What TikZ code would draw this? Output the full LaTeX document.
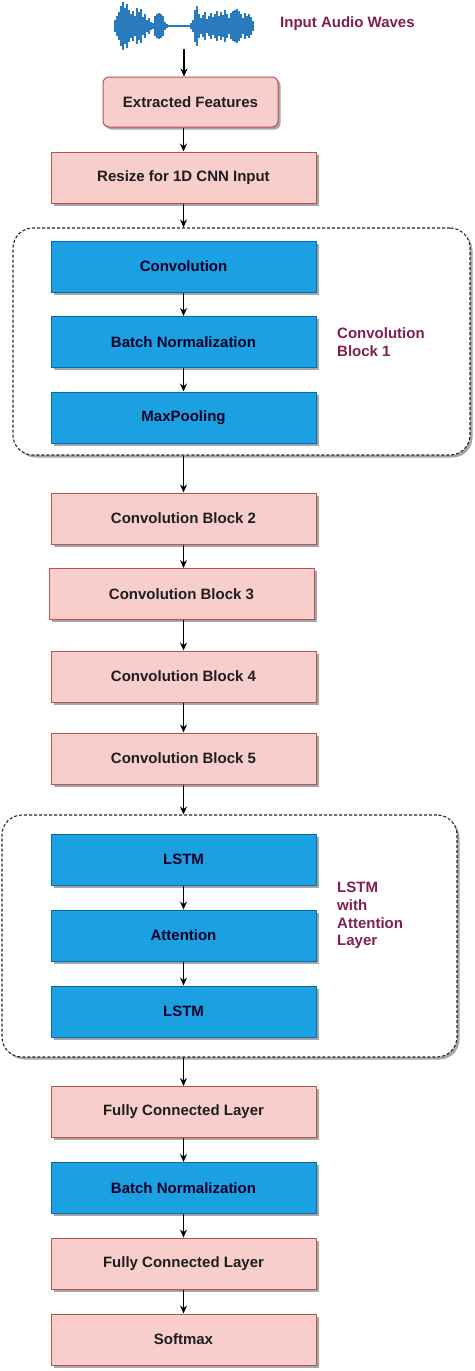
\documentclass[tikz,border=0pt]{standalone}
\usepackage{fontspec}
\setmainfont{Liberation Sans}
\usetikzlibrary{arrows.meta,shadows}
\definecolor{pinkfill}{HTML}{F8CECC}
\definecolor{pinkline}{HTML}{B85450}
\definecolor{bluefill}{HTML}{1BA1E2}
\definecolor{blueline}{HTML}{006EAF}
\definecolor{wavecol}{HTML}{2A7BBE}
\definecolor{maroon}{HTML}{7F1F4F}
\definecolor{txt}{HTML}{1E1E1E}
\begin{document}
\begin{tikzpicture}[x=1pt,y=-1pt,
  shad/.style={drop shadow={shadow xshift=2.5pt,shadow yshift=-2.5pt,opacity=0.35,fill=black}},
  layer/.style={shad,minimum width=265pt,minimum height=51pt,inner sep=0pt,line width=1pt,
    font=\fontsize{15}{18}\selectfont\bfseries,text=txt},
  pinkbox/.style={layer,fill=pinkfill,draw=pinkline},
  bluebox/.style={layer,fill=bluefill,draw=blueline,text=black!85!blue},
  container/.style={shad,draw=black!85,dash pattern=on 3pt off 2pt,line width=1.1pt,rounded corners=20pt,fill=white,inner sep=0pt},
  note/.style={text=maroon,font=\fontsize{15}{17.7}\selectfont\bfseries,align=left,anchor=west,inner sep=0pt},
  arr/.style={-{Stealth[length=8pt,width=7pt]},line width=1.2pt,black}]
\useasboundingbox (0,0) rectangle (474,1371);
% waveform
\node[minimum width=138pt,minimum height=48pt,inner sep=0pt] (wave) at (184,25) {};
\foreach \x/\a in {115/6,117/10,119/14,121/20,123/24,125/18,127/22,129/16,131/12,133/15,135/10,137/18,139/14,141/17,143/9,145/12,147/6,149/8,151/4,153/3,155/10,157/12,159/13,161/12,163/10,165/4,167/2,169/0.6,171/0.6,173/0.6,175/0.6,177/0.6,179/0.6,181/0.6,183/0.6,185/0.6,187/0.6,189/0.8,191/3,193/6,195/16,197/20,199/12,201/8,203/11,205/14,207/7,209/10,211/13,213/9,215/12,217/15,219/10,221/14,223/11,225/16,227/12,229/8,231/13,233/15,235/16,237/17,239/15,241/12,243/8,245/13,247/10,249/12,251/9,253/5}
  \draw[wavecol,line width=2.3pt] (\x,26-\a) -- (\x,26+\a);
\node[note] (inlab) at (280,24) {Input Audio Waves};
% top boxes
\node[pinkbox,rounded corners=6pt,minimum width=175pt,minimum height=50pt] (ext) at (190.5,102) {Extracted Features};
\node[pinkbox] (resize) at (183.5,177.5) {Resize for 1D CNN Input};
% container 1
\node[container,minimum width=457pt,minimum height=227pt] (cont1) at (241.5,341.5) {};
\node[bluebox] (conv) at (183.5,266.5) {Convolution};
\node[bluebox] (bn1) at (183.5,342) {Batch Normalization};
\node[bluebox] (maxp) at (183.5,417.5) {MaxPooling};
\node[note] (lab1) at (337,342) {Convolution\\Block 1};
% conv blocks
\node[pinkbox] (cb2) at (183.5,518.5) {Convolution Block 2};
\node[pinkbox] (cb3) at (181.5,594) {Convolution Block 3};
\node[pinkbox] (cb4) at (183.5,676.5) {Convolution Block 4};
\node[pinkbox] (cb5) at (183.5,758.5) {Convolution Block 5};
% container 2
\node[container,minimum width=455pt,minimum height=242pt] (cont2) at (229.5,936) {};
\node[bluebox] (lstm1) at (183.5,859.5) {LSTM};
\node[bluebox] (att) at (183.5,935.5) {Attention};
\node[bluebox] (lstm2) at (183.5,1011.5) {LSTM};
\node[note] (lab2) at (337,915.5) {LSTM\\with\\Attention\\Layer};
% bottom
\node[pinkbox] (fc1) at (183.5,1112) {Fully Connected Layer};
\node[bluebox] (bn2) at (183.5,1188) {Batch Normalization};
\node[pinkbox] (fc2) at (183.5,1263.5) {Fully Connected Layer};
\node[pinkbox] (soft) at (183.5,1339.5) {Softmax};
% arrows
\draw[arr] (wave.south) -- (wave.south |- ext.north);
\draw[arr] (resize.north |- ext.south) -- (resize.north);
\draw[arr] (resize.south) -- (resize.south |- cont1.north);
\draw[arr] (conv) -- (bn1);
\draw[arr] (bn1) -- (maxp);
\draw[arr] (cb2.north |- cont1.south) -- (cb2.north);
\draw[arr] (cb2) -- (cb3.north -| cb2.south);
\draw[arr] (cb3.south -| cb4.north) -- (cb4);
\draw[arr] (cb4) -- (cb5);
\draw[arr] (cb5.south) -- (cb5.south |- cont2.north);
\draw[arr] (lstm1) -- (att);
\draw[arr] (att) -- (lstm2);
\draw[arr] (fc1.north |- cont2.south) -- (fc1.north);
\draw[arr] (fc1) -- (bn2);
\draw[arr] (bn2) -- (fc2);
\draw[arr] (fc2) -- (soft);
\end{tikzpicture}
\end{document}
